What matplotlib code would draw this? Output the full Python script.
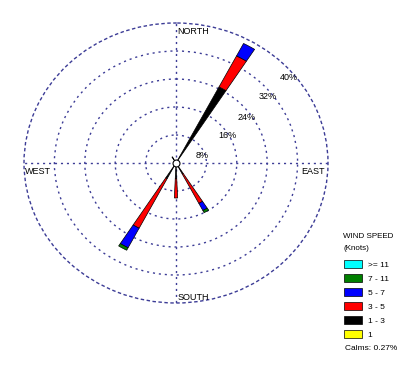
import numpy as np
import matplotlib
matplotlib.use('Agg')
import matplotlib.pyplot as plt
from matplotlib.patches import Patch

plt.rcParams['font.family'] = ['Liberation Sans', 'DejaVu Sans']

# wind directions (degrees from north) and frequency (%) for each speed class
directions = [30, 150, 180, 210, 330]
speed_classes = ['1', '1 - 3', '3 - 5', '5 - 7', '7 - 11', '>= 11']
class_colors = ['#ffff00', '#000000', '#ff0000', '#0000ff', '#008000', '#00ffff']
freq_1 = [0, 0, 0, 0, 0]
freq_1_3 = [24.5, 3.5, 4.5, 5.0, 2.0]
freq_3_5 = [10.0, 9.5, 5.5, 16.0, 0]
freq_5_7 = [4.0, 2.3, 0, 6.3, 0]
freq_7_11 = [0, 0.7, 0, 0.8, 0]
freq_11 = [0, 0, 0, 0, 0]
ring_values = [8, 16, 24, 32, 40]
ring_labels = ['8%', '16%', '24%', '32%', '40%']
calms = 0.27

freqs = [freq_1, freq_1_3, freq_3_5, freq_5_7, freq_7_11, freq_11]

grid_col = '#3c3c96'
dash = (0, (1.5, 2.8))

fig = plt.figure(figsize=(4.19, 3.87), dpi=100)
ax = fig.add_axes([24/419, 84/387, 304/419, 280/387], projection='polar')
ax.set_aspect('auto')
ax.set_theta_zero_location('N')
ax.set_theta_direction(-1)

theta = np.radians(directions)
width = np.radians(5)
bottom = np.zeros(len(directions))
handles = []
for name, col, f in zip(speed_classes, class_colors, freqs):
    f = np.array(f, dtype=float)
    m = f > 0
    if m.any():
        ax.bar(theta[m], f[m], width=width, bottom=bottom[m], color=col,
               edgecolor='black', linewidth=0.5, zorder=3)
    bottom += f
    handles.append(Patch(facecolor=col, edgecolor='black', linewidth=0.5, label=name))

ax.plot([0], [0], 'o', ms=5, mfc='white', mec='black', mew=0.8, zorder=5)

ax.set_ylim(0, ring_values[-1])
ax.set_rticks(ring_values[:-1])
ax.set_yticklabels([])
ax.set_xticks(np.radians([0, 90, 180, 270]))
ax.set_xticklabels([])
ax.grid(True, color=grid_col, linestyle=dash, linewidth=1.0)
ax.spines['polar'].set_color(grid_col)
ax.spines['polar'].set_linestyle(dash)
ax.spines['polar'].set_linewidth(1.0)

# ring percentage labels
label_angles = [73, 60, 55, 52, 50.5]
label_r = [7.1, 15.5, 22.8, 30.7, 38.6]
for a, r, t in zip(label_angles, label_r, ring_labels):
    ax.text(np.radians(a), r, t, fontsize=6.5, ha='center', va='center', zorder=4)

ax.text(0.556, 0.971, 'NORTH', transform=ax.transAxes, fontsize=6.5, ha='center', va='center')
ax.text(0.556, 0.018, 'SOUTH', transform=ax.transAxes, fontsize=6.5, ha='center', va='center')
ax.text(0.046, 0.468, 'WEST', transform=ax.transAxes, fontsize=6.5, ha='center', va='center')
ax.text(0.95, 0.468, 'EAST', transform=ax.transAxes, fontsize=6.5, ha='center', va='center')

# legend
fig.text(343/419, 1 - 237/387, 'WIND SPEED', fontsize=5.8, ha='left', va='center')
fig.text(343/419, 1 - 249/387, '(Knots)', fontsize=5.8, ha='left', va='center')
leg = fig.legend(handles=handles[::-1], loc='upper left', bbox_to_anchor=(344/419, 1 - 260/387),
                 fontsize=6, frameon=False,
                 handlelength=2.1, handleheight=1.1, labelspacing=0.62, handletextpad=0.75,
                 borderaxespad=0, borderpad=0)
fig.text(345/419, 1 - 348/387, 'Calms: %.2f%%' % calms, fontsize=6, ha='left', va='center')

fig.savefig('out.png', dpi=100)
